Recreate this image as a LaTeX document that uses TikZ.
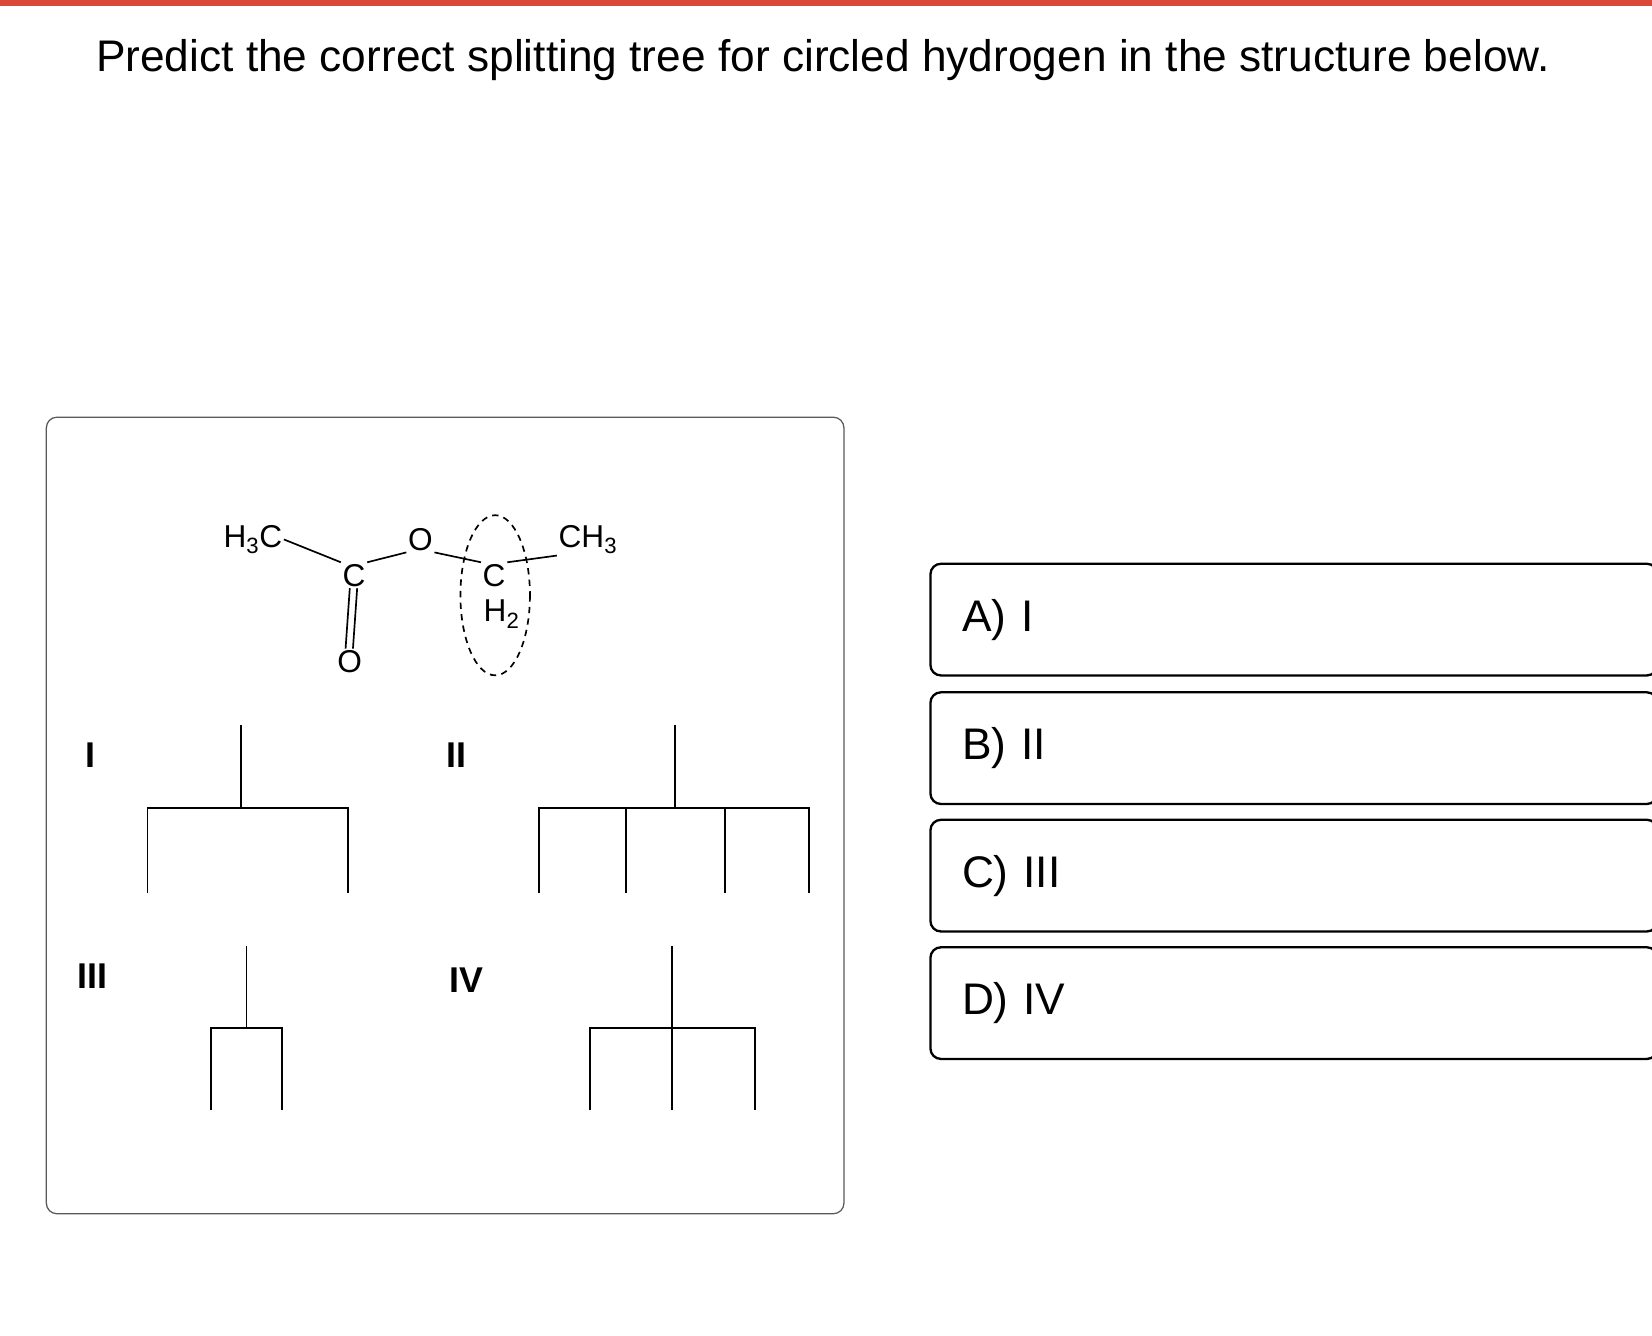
\documentclass[tikz,border=0pt]{standalone}
\usepackage{fontspec}
\setmainfont{Liberation Sans}
\definecolor{topred}{HTML}{D9493A}
\begin{document}
\begin{tikzpicture}[x=1pt,y=-1pt,
    atom/.style={inner sep=1.5pt,font=\fontsize{30}{30}\selectfont},
    bond/.style={line width=1.6pt},
    tree/.style={line width=1.8pt},
    roman/.style={font=\fontsize{34}{34}\selectfont\bfseries},
    choice/.style={draw,line width=2.2pt,rounded corners=10pt,minimum width=674pt,minimum height=106pt,anchor=north west,text width=630pt,inner xsep=30pt,align=left,font=\fontsize{42}{42}\selectfont}]
    \useasboundingbox (0,0) rectangle (1568,1268);
    \fill[topred] (0,0) rectangle (1568,6);
    \node[font=\fontsize{42}{42}\selectfont] (title) at (781,57) {Predict the correct splitting tree for circled hydrogen in the structure below.};
    \draw[gray!70!black,line width=1.2pt,rounded corners=10pt] (44,396) rectangle (801,1152);

    % structure
    \node[atom] (me1) at (240,512) {H\textsubscript{3}C};
    \node[atom] (c1) at (336,546) {C};
    \node[atom] (o1) at (399,512) {O};
    \node[atom] (c2) at (469,546) {C};
    \node[atom] (h2) at (476,583) {H\textsubscript{2}};
    \node[atom] (me2) at (558,512) {CH\textsubscript{3}};
    \node[atom] (o2) at (332,628) {O};
    \draw[bond] (me1.east) -- (c1.north west);
    \draw[bond] (c1.north east) -- (o1.south west);
    \draw[bond] (o1.south east) -- (c2.north west);
    \draw[bond] (c2.north east) -- (me2.south west);
    \draw[bond] ([xshift=-4pt]c1.south) -- ([xshift=-4pt]o2.north);
    \draw[bond] ([xshift=3pt]c1.south) -- ([xshift=3pt]o2.north);
    \draw[bond,dashed,dash pattern=on 6pt off 5pt] (470,565) ellipse (33 and 76);

    % trees
    \node[roman] (lI) at (86,717) {I};
    \draw[tree] (229,688) -- (229,767);
    \draw[tree] (140,848) -- (140,767) -- (330,767) -- (330,848);
    \node[roman] (lII) at (433,717) {II};
    \draw[tree] (641,688) -- (641,767);
    \draw[tree] (512,848) -- (512,767) -- (768,767) -- (768,848);
    \foreach \x in {594,688} \draw[tree] (\x,767) -- (\x,848);
    \node[roman] (lIII) at (88,927) {III};
    \draw[tree] (234,898) -- (234,976);
    \draw[tree] (200,1054) -- (200,976) -- (268,976) -- (268,1054);
    \node[roman] (lIV) at (443,930) {IV};
    \draw[tree] (638,898) -- (638,1054);
    \draw[tree] (560,1054) -- (560,976) -- (717,976) -- (717,1054);

    % choices
    \node[choice] (a) at (882,534) {A) I};
    \node[choice] (b) at (882,656) {B) II};
    \node[choice] (c) at (882,777) {C) III};
    \node[choice] (d) at (882,898) {D) IV};
\end{tikzpicture}
\end{document}
